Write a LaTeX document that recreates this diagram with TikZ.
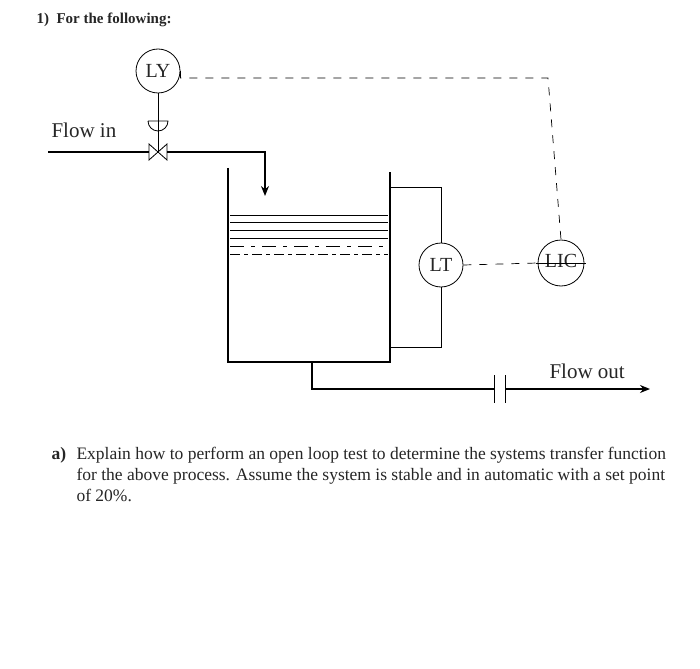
\documentclass[tikz,border=0pt]{standalone}
\usepackage{fontspec}
\usetikzlibrary{arrows.meta}
\setmainfont{Liberation Serif}
\begin{document}
\begin{tikzpicture}[x=1pt,y=-1pt,
  inst/.style={circle,draw,line width=0.8pt,minimum size=44pt,inner sep=0pt,font=\fontsize{20}{22}\selectfont},
  pipe/.style={line width=1.6pt},
  thinline/.style={line width=0.8pt},
  sig/.style={line width=0.7pt,dash pattern=on 8pt off 8pt},
  lbl/.style={font=\fontsize{21}{24}\selectfont},
  arr/.style={-{Stealth[length=10pt,width=8pt]}},
  every node/.style={text=black!85}]
\fill[white] (0,0) rectangle (700,668);
\node[anchor=west,font=\fontsize{15}{17}\selectfont\bfseries] (title) at (33,20) {1)\enspace For the following:};
\node[inst] (ly) at (158,71) {LY};
\node[inst] (lt) at (441,265) {LT};
\node[inst,minimum size=46pt] (lic) at (561,263) {\raisebox{4pt}{LIC}};
\draw[thinline] ([xshift=-2pt]lic.west) -- ([xshift=2pt]lic.east);
\coordinate (corner) at (548,78);
\draw[sig] (ly.east) -- (ly.east |- corner) -- (corner) -- (lic.north);
\draw[sig] (lt.east) -- (lic.west);
% valve
\coordinate (v) at (158,152);
\draw[thinline] (ly.south) -- (158,121);
\draw[thick] (148,121) -- (168,121) arc (0:180:10);
\draw[thick] (158,121) -- (v);
\draw[thick] (149,144) -- (167,160) -- (167,144) -- (149,160) -- cycle;
\node[lbl,anchor=west] (fin) at (48,130) {Flow in};
\coordinate (inA) at (48,152);
\coordinate (inB) at (265,152);
\coordinate (inC) at (265,196);
\draw[pipe] (inA) -- (149,152);
\draw[pipe,arr] (167,152) -- (inB) -- (inC);
% tank
\draw[pipe] (228,168) -- (228,362) -- (390,362) -- (390,172);
\foreach \y in {215,222,230,238} \draw[thinline] (230,\y) -- (388,\y);
\draw[thinline,dash pattern=on 14pt off 7pt on 4pt off 7pt] (230,246) -- (388,246);
\draw[thinline,dash pattern=on 10pt off 4pt on 4pt off 4pt] (230,254) -- (388,254);
% LT connections
\draw[thinline] (391,187) -- (lt.north |- 0,187) -- (lt.north);
\draw[thinline] (lt.south) -- (441,347) -- (391,347);
% outflow
\coordinate (outE) at (650,389);
\draw[pipe] (312,362) -- (312,389) -- (494,389);
\draw[pipe,arr] (505,389) -- (outE);
\draw[thick] (494,375) -- (494,403);
\draw[thick] (505,375) -- (505,403);
\node[lbl,anchor=west] (fout) at (546,371) {Flow out};
% question
\node[anchor=north west,font=\fontsize{17.5}{21}\selectfont\bfseries] (qa) at (48,444) {a)};
\node[anchor=north west,align=left,font=\fontsize{17.5}{21}\selectfont] (qt) at (73,444)
 {Explain how to perform an open loop test to determine the systems transfer function\\
  for the above process. Assume the system is stable and in automatic with a set point\\
  of 20\%.};
\end{tikzpicture}
\end{document}
